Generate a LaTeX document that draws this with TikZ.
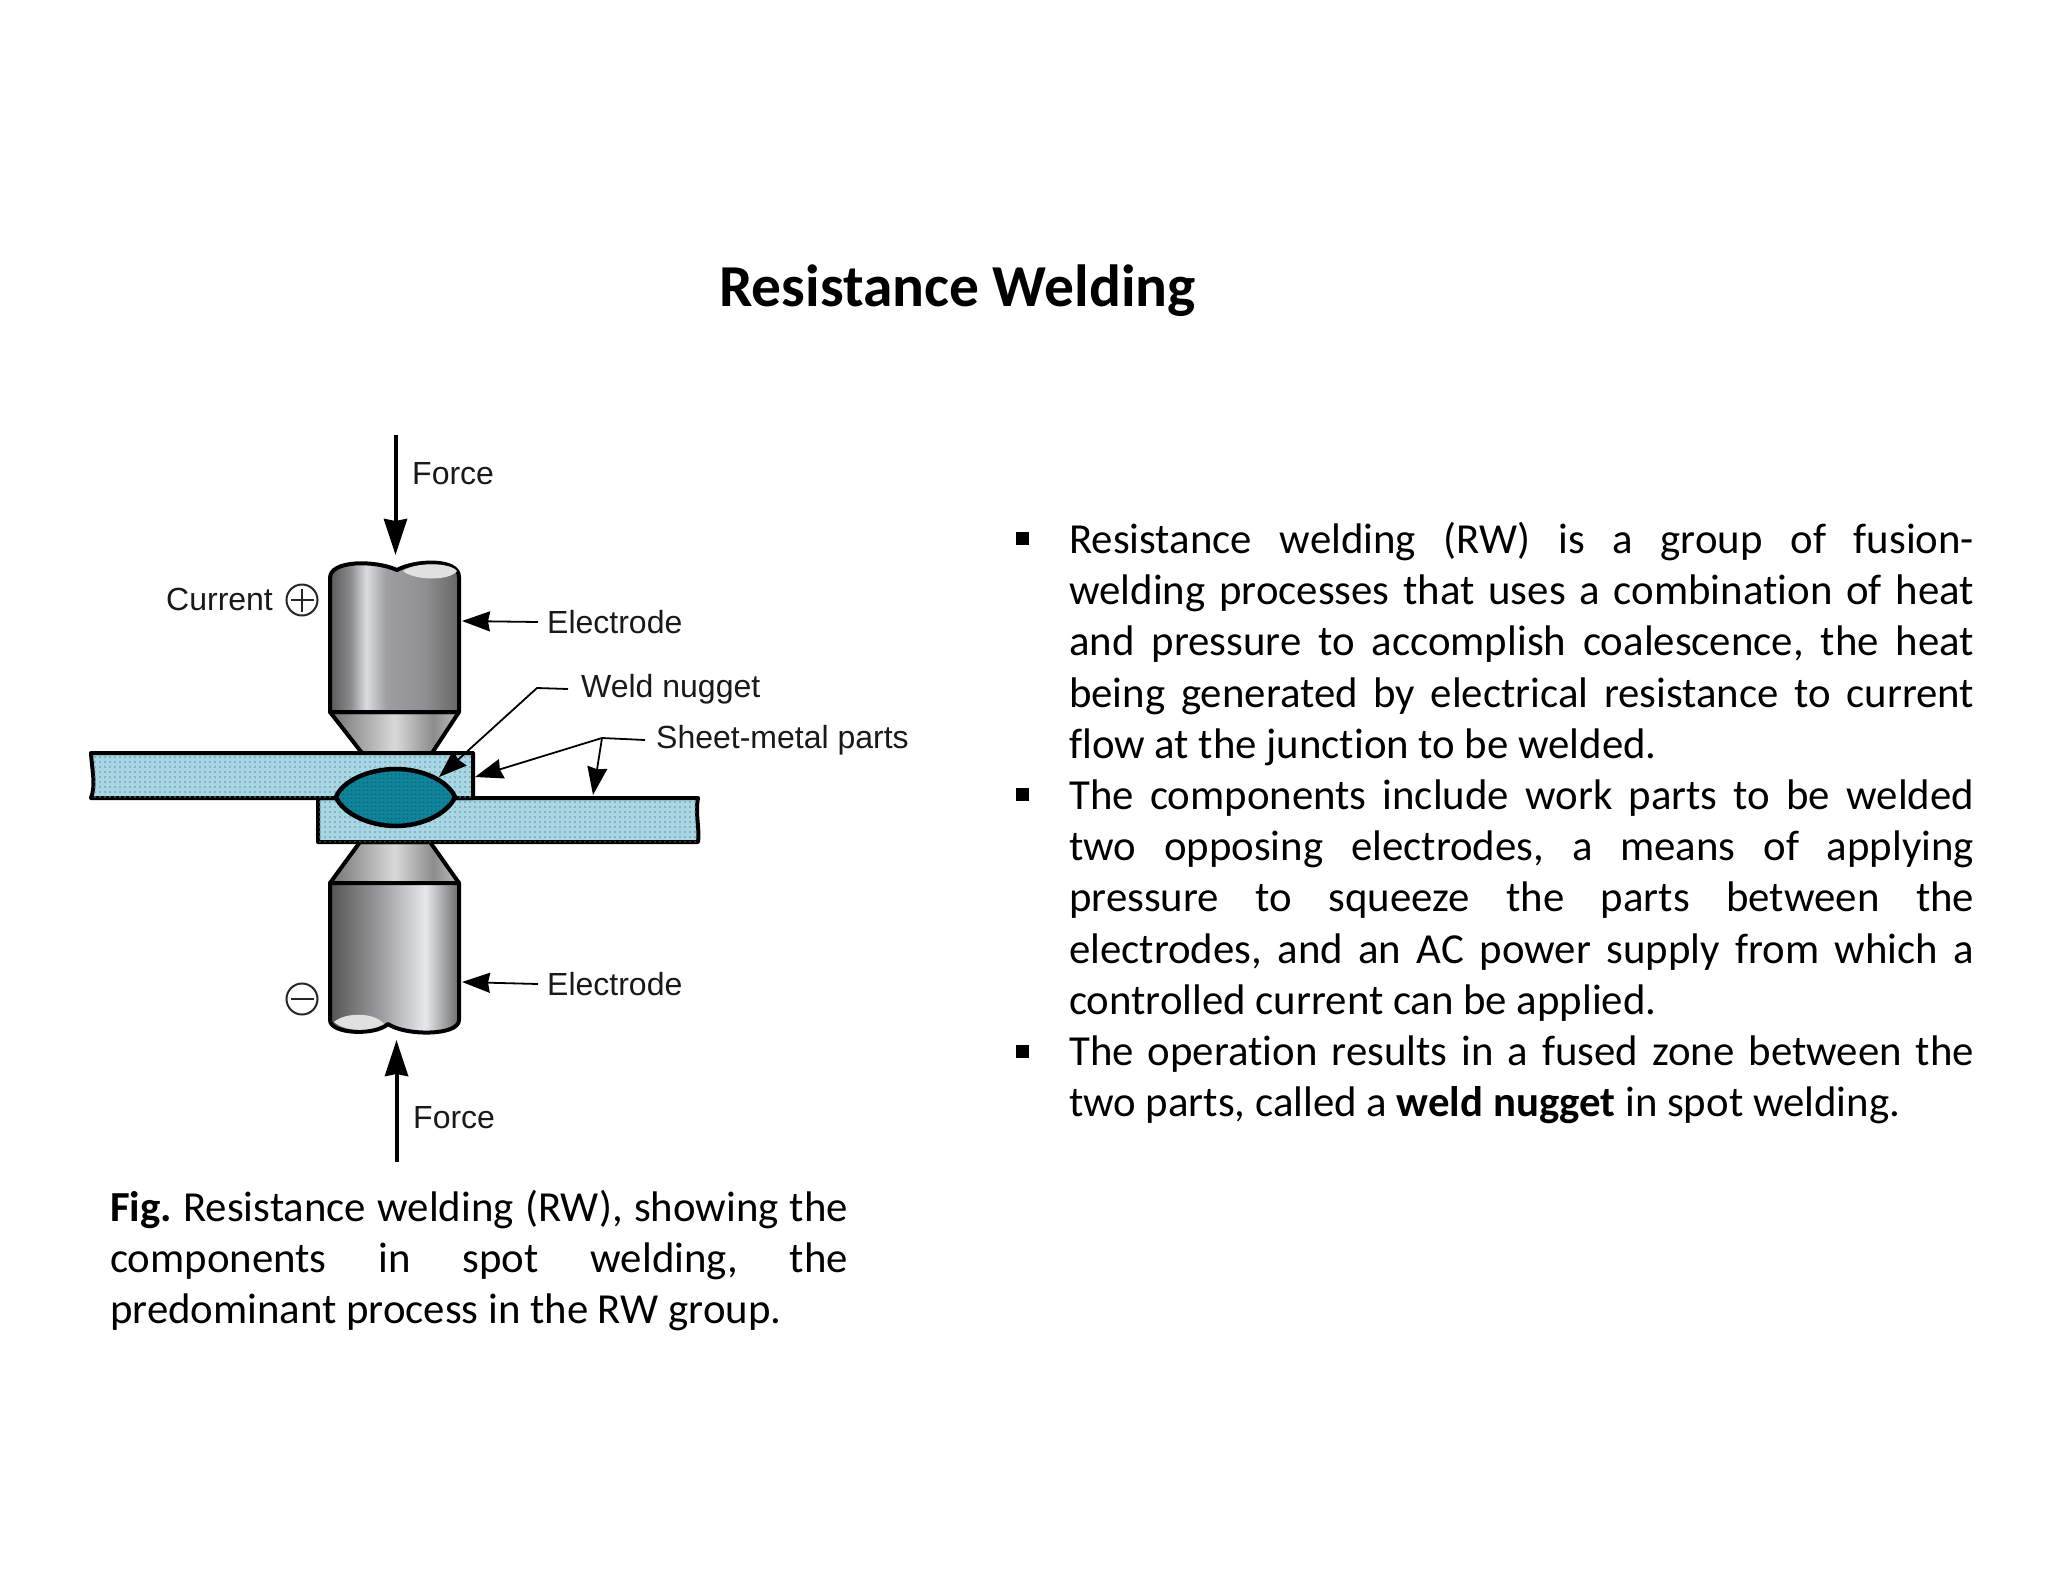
\documentclass[tikz,border=0pt]{standalone}
\usepackage{fontspec}
\setmainfont[Ligatures=NoCommon]{Carlito}
\newfontfamily\labelfont{Liberation Sans}
\usetikzlibrary{arrows.meta,patterns.meta,positioning}
\pgfdeclarehorizontalshading{elecupper}{100bp}{rgb(0bp)=(.35,.35,.35);rgb(25bp)=(.35,.35,.35);rgb(33bp)=(.55,.55,.56);rgb(39bp)=(.85,.86,.87);rgb(47bp)=(.62,.62,.63);rgb(62bp)=(.56,.56,.57);rgb(75bp)=(.4,.4,.4);rgb(100bp)=(.4,.4,.4)}
\pgfdeclarehorizontalshading{eleclower}{100bp}{rgb(0bp)=(.33,.33,.33);rgb(25bp)=(.33,.33,.33);rgb(45bp)=(.62,.62,.63);rgb(62bp)=(.9,.91,.92);rgb(75bp)=(.42,.42,.42);rgb(100bp)=(.42,.42,.42)}
\pgfdeclarehorizontalshading{conegrey}{100bp}{rgb(0bp)=(.45,.45,.45);rgb(25bp)=(.45,.45,.45);rgb(50bp)=(.85,.85,.85);rgb(65bp)=(.55,.55,.55);rgb(75bp)=(.75,.75,.75);rgb(100bp)=(.75,.75,.75)}
\definecolor{sheetblue}{HTML}{A8D6E3}
\definecolor{sheetdot}{HTML}{5F93A4}
\definecolor{nuggetblue}{HTML}{0F8399}
\definecolor{nuggetdot}{HTML}{075A6C}
\begin{document}
\begin{tikzpicture}[x=1pt,y=-1pt,
    bodytext/.style={font=\fontsize{42.8}{51.2}\selectfont\frenchspacing,align=justify,inner sep=0pt,anchor=north west},
    partlabel/.style={font=\labelfont\fontsize{32}{36}\selectfont,text=black!90,inner sep=0pt},
    bulletmark/.style={fill=black,minimum size=13pt,inner sep=0pt},
    pole/.style={draw=black!85,line width=2pt,circle,minimum size=31pt,inner sep=0pt},
    polesign/.style={line width=2pt,black!85,shorten <=5pt,shorten >=5pt},
    outline/.style={draw=black,line width=4pt,line join=round},
    thinlead/.style={draw=black,line width=1.8pt},
    leadarrow/.style={thinlead,-{Stealth[length=28pt,width=20pt,inset=2pt]}},
    forcearrow/.style={draw=black,line width=4pt,-{Stealth[length=36pt,width=23pt,inset=2pt]}},
    sheet/.style={outline,preaction={fill=sheetblue},postaction={pattern={Dots[radius=.8pt,distance=5pt]},pattern color=sheetdot}}
]
\useasboundingbox (0,0) rectangle (2048,1582);
\node[font=\fontsize{59.5}{66}\selectfont\bfseries] (title) at (957.5,291) {Resistance Welding};

% upper electrode
\draw[outline,shading=conegrey] (362,753) -- (330,712) -- (459,712) -- (432,753) -- cycle;
\draw[outline,shading=elecupper] (330,712) -- (330,578) .. controls (330,560) and (375,560) .. (397,570) .. controls (415,560) and (459,558) .. (459,577) -- (459,712) -- cycle;
\fill[black!12] (403,571) .. controls (415,562) and (450,562) .. (457,571) .. controls (450,581) and (415,581) .. (403,571) -- cycle;

% lower electrode
\draw[outline,shading=conegrey] (360,842) -- (330,883) -- (459,883) -- (430,842) -- cycle;
\draw[outline,shading=eleclower] (330,883) -- (330,1020) .. controls (330,1034) and (375,1036) .. (388,1024) .. controls (405,1036) and (459,1036) .. (459,1020) -- (459,883) -- cycle;
\fill[black!12] (334,1022) .. controls (345,1012) and (375,1012) .. (384,1024) .. controls (370,1032) and (345,1032) .. (334,1022) -- cycle;

% sheets
\path[sheet] (318,798) -- (698,798) .. controls (695,815) and (700,830) .. (698,842) -- (318,842) -- cycle;
\path[sheet] (91,753) -- (473,753) -- (473,798) -- (91,798) .. controls (96,785) and (92,770) .. (91,753) -- cycle;

% nugget
\draw[draw=black,line width=4.5pt,preaction={fill=nuggetblue},pattern={Dots[radius=.9pt,distance=4pt]},pattern color=nuggetdot]
    (336,797) .. controls (343,780) and (370,769) .. (396,769) .. controls (423,769) and (448,781) .. (455,797) .. controls (448,813) and (423,826) .. (396,826) .. controls (370,826) and (343,814) .. (336,797) -- cycle;

% labels
\node[partlabel,anchor=west] (forcetop) at (412,474) {Force};
\node[partlabel,anchor=west] (forcebot) at (413,1118) {Force};
\node[partlabel,anchor=west] (current) at (166,599) {Current};
\node[pole] (plus) at (302,600) {};
\node[pole] (minus) at (302,999) {};
\draw[polesign] (plus.west) -- (plus.east);
\draw[polesign] (plus.north) -- (plus.south);
\draw[polesign] (minus.west) -- (minus.east);
\node[partlabel,anchor=west] (electrodetop) at (547,622) {Electrode};
\node[partlabel,anchor=west] (electrodebot) at (547,984) {Electrode};
\node[partlabel,anchor=west] (nuggetlabel) at (581,689) {Weld nugget};
\node[partlabel,anchor=west] (sheetlabel) at (656,740) {Sheet-metal parts};

% force arrows
\coordinate (forcetopstart) at (395.5,435);
\coordinate (forcetoptip) at (395.5,555);
\coordinate (forcebotstart) at (396.5,1162);
\coordinate (forcebottip) at (396.5,1040);
\draw[forcearrow] (forcetopstart) -- (forcetoptip);
\draw[forcearrow] (forcebotstart) -- (forcebottip);

% leaders
\coordinate (electrodetoptip) at (462,621);
\coordinate (electrodebottip) at (462,982);
\coordinate (nuggetbend) at (537,688);
\coordinate (nuggettip) at (439,777);
\coordinate (sheetbend) at (602,738);
\coordinate (sheettoptip) at (475,777);
\coordinate (sheetbottip) at (593,795);
\draw[leadarrow] (electrodetop.west) ++(-9,0) -- (electrodetoptip);
\draw[leadarrow] (electrodebot.west) ++(-9,0) -- (electrodebottip);
\draw[leadarrow] (nuggetlabel.west) ++(-13,0) -- (nuggetbend) -- (nuggettip);
\draw[thinlead] (sheetlabel.west) ++(-11,0) -- (sheetbend);
\draw[leadarrow] (sheetbend) -- (sheettoptip);
\draw[leadarrow] (sheetbend) -- (sheetbottip);

% caption
\node[bodytext,text width=738pt] (caption) at (110,1190) {\textbf{Fig.} Resistance welding (RW), showing the\linebreak components in spot welding, the\linebreak predominant process in the RW group.};

% bullet text
\node[bodytext,text width=905pt] (bullets) at (1069,522) {Resistance welding (RW) is a group of fusion-\linebreak welding processes that uses a combination of heat\linebreak and pressure to accomplish coalescence, the heat\linebreak being generated by electrical resistance to current\linebreak flow at the junction to be welded.\par
The components include work parts to be welded\linebreak two opposing electrodes, a means of applying\linebreak pressure to squeeze the parts between the\linebreak electrodes, and an AC power supply from which a\linebreak controlled current can be applied.\par
The operation results in a fused zone between the\linebreak two parts, called a \textbf{weld nugget} in spot welding.};
\node[bulletmark] (mark1) at (1022,538) {};
\node[bulletmark] (mark2) at (1022,794.5) {};
\node[bulletmark] (mark3) at (1022,1051) {};
\end{tikzpicture}
\end{document}
